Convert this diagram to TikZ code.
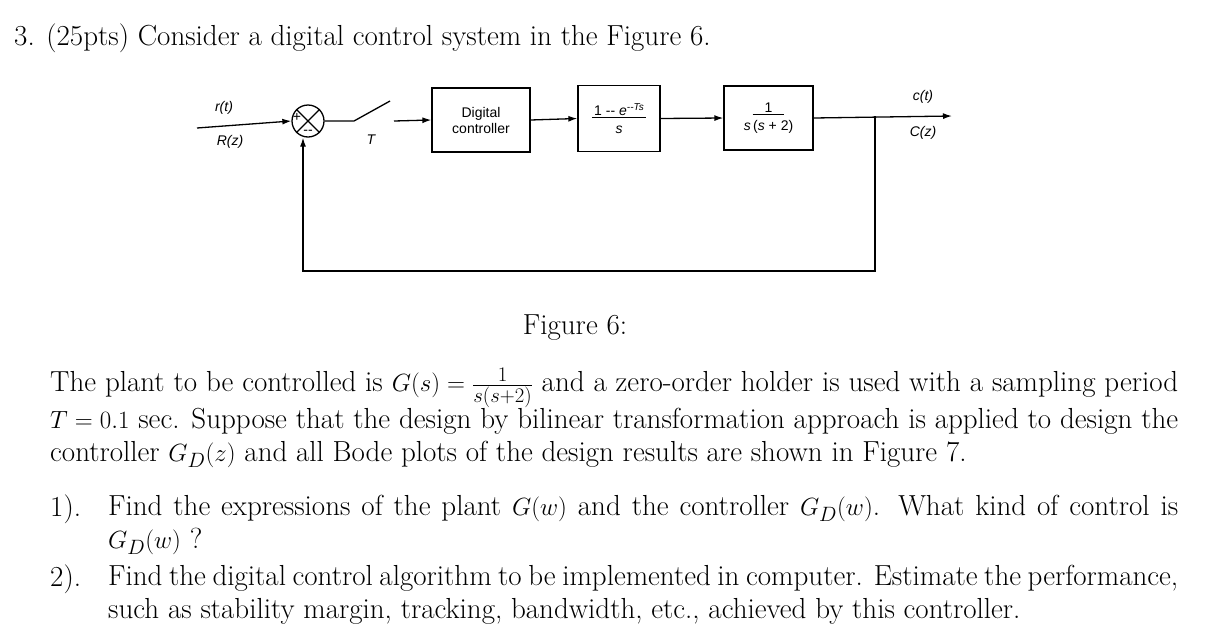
\documentclass[tikz,border=0pt]{standalone}
\usepackage{amsmath}
\usepackage{fontspec}
\newfontfamily\dsans{Liberation Sans}
\usetikzlibrary{arrows.meta}
\begin{document}
\begin{tikzpicture}[x=1pt,y=-1pt,
  blk/.style={draw,line width=1.3pt,inner sep=0pt,font=\dsans\fontsize{14}{16}\selectfont},
  sig/.style={line width=1.3pt,-{Latex[length=9pt,width=6pt]}},
  ln/.style={line width=1.3pt},
  lab/.style={font=\dsans\itshape\fontsize{14}{16}\selectfont},
  body/.style={anchor=north west,inner sep=0pt,font=\fontsize{29}{33}\selectfont,align=justify}]
\useasboundingbox (0,0) rectangle (1222,643);
\node[anchor=west,inner sep=0pt,font=\fontsize{29}{33}\selectfont] (title) at (14,38) {3. (25pts) Consider a digital control system in the Figure 6.};
% diagram
\coordinate (in) at (197,128);
\node[draw,circle,line width=1.3pt,minimum size=32pt,inner sep=0pt] (sum) at (308,121) {};
\draw[ln] (sum.north west)--(sum.south east) (sum.north east)--(sum.south west);
\node[font=\dsans\fontsize{14}{14}\selectfont,inner sep=0pt] (plus) at (297,117) {+};
\node[font=\dsans\fontsize{14}{14}\selectfont,inner sep=0pt] (minus) at (308,132) {--};
\draw[sig] (in) -- (sum.west);
\node[lab] (rt) at (224,108) {r(t)};
\node[lab] (Rz) at (230,142) {R(z)};
\coordinate (sw1) at (354,121);
\coordinate (sw2) at (390,101);
\draw[ln] (sum.east) -- (sw1) -- (sw2);
\node[lab] (T) at (371,140) {T};
\coordinate (sw3) at (394,121);
\node[blk,minimum width=98pt,minimum height=64pt,align=center] (dc) at (481,120) {Digital\\controller};
\draw[sig] (sw3) -- (dc.west);
\node[blk,minimum width=82pt,minimum height=66pt,align=center] (zoh) at (619,118.5) {\underline{\,1 -- \textit{e}\raisebox{0.7ex}{\fontsize{10}{10}\selectfont\itshape--Ts}\,}\\[2pt]\textit{s}};
\draw[sig] (dc.east) -- (zoh.west);
\node[blk,minimum width=89pt,minimum height=64pt,align=center] (pl) at (768.5,118) {\underline{\hspace{12pt}1\hspace{12pt}}\\[2pt]\textit{s}\,(\textit{s} + 2)};
\draw[sig] (zoh.east) -- (pl.west);
\coordinate (out) at (952,116);
\coordinate (br) at (875,116);
\draw[sig] (pl.east) -- (out);
\node[lab] (ct) at (923,97) {c(t)};
\node[lab] (Cz) at (923,133) {C(z)};
\coordinate (b1) at (875,271);
\coordinate (b2) at (303,271);
\draw[sig] (br) -- (b1) -- (b2) -- (b2 |- sum.south);
\node[font=\fontsize{29}{33}\selectfont] (cap) at (575,328) {Figure 6:};
% text
\node[body,text width=1128pt] (p1) at (50,368) {The plant to be controlled is $G(s)=\frac{1}{s(s+2)}$ and a zero-order holder is used with a sampling period $T=0.1$ sec. Suppose that the design by bilinear transformation approach is applied to design the controller $G_D(z)$ and all Bode plots of the design results are shown in Figure~7.};
\node[anchor=north west,inner sep=0pt,font=\fontsize{29}{33}\selectfont] (n1) at (50,495) {1).};
\node[body,text width=1070pt] (i1) at (108,495) {Find the expressions of the plant $G(w)$ and the controller $G_D(w)$. What kind of control is $G_D(w)$ ?};
\node[anchor=north west,inner sep=0pt,font=\fontsize{29}{33}\selectfont] (n2) at (50,565) {2).};
\node[body,text width=1070pt] (i2) at (108,565) {Find the digital control algorithm to be implemented in computer. Estimate the performance, such as stability margin, tracking, bandwidth, etc., achieved by this controller.};
\end{tikzpicture}
\end{document}
